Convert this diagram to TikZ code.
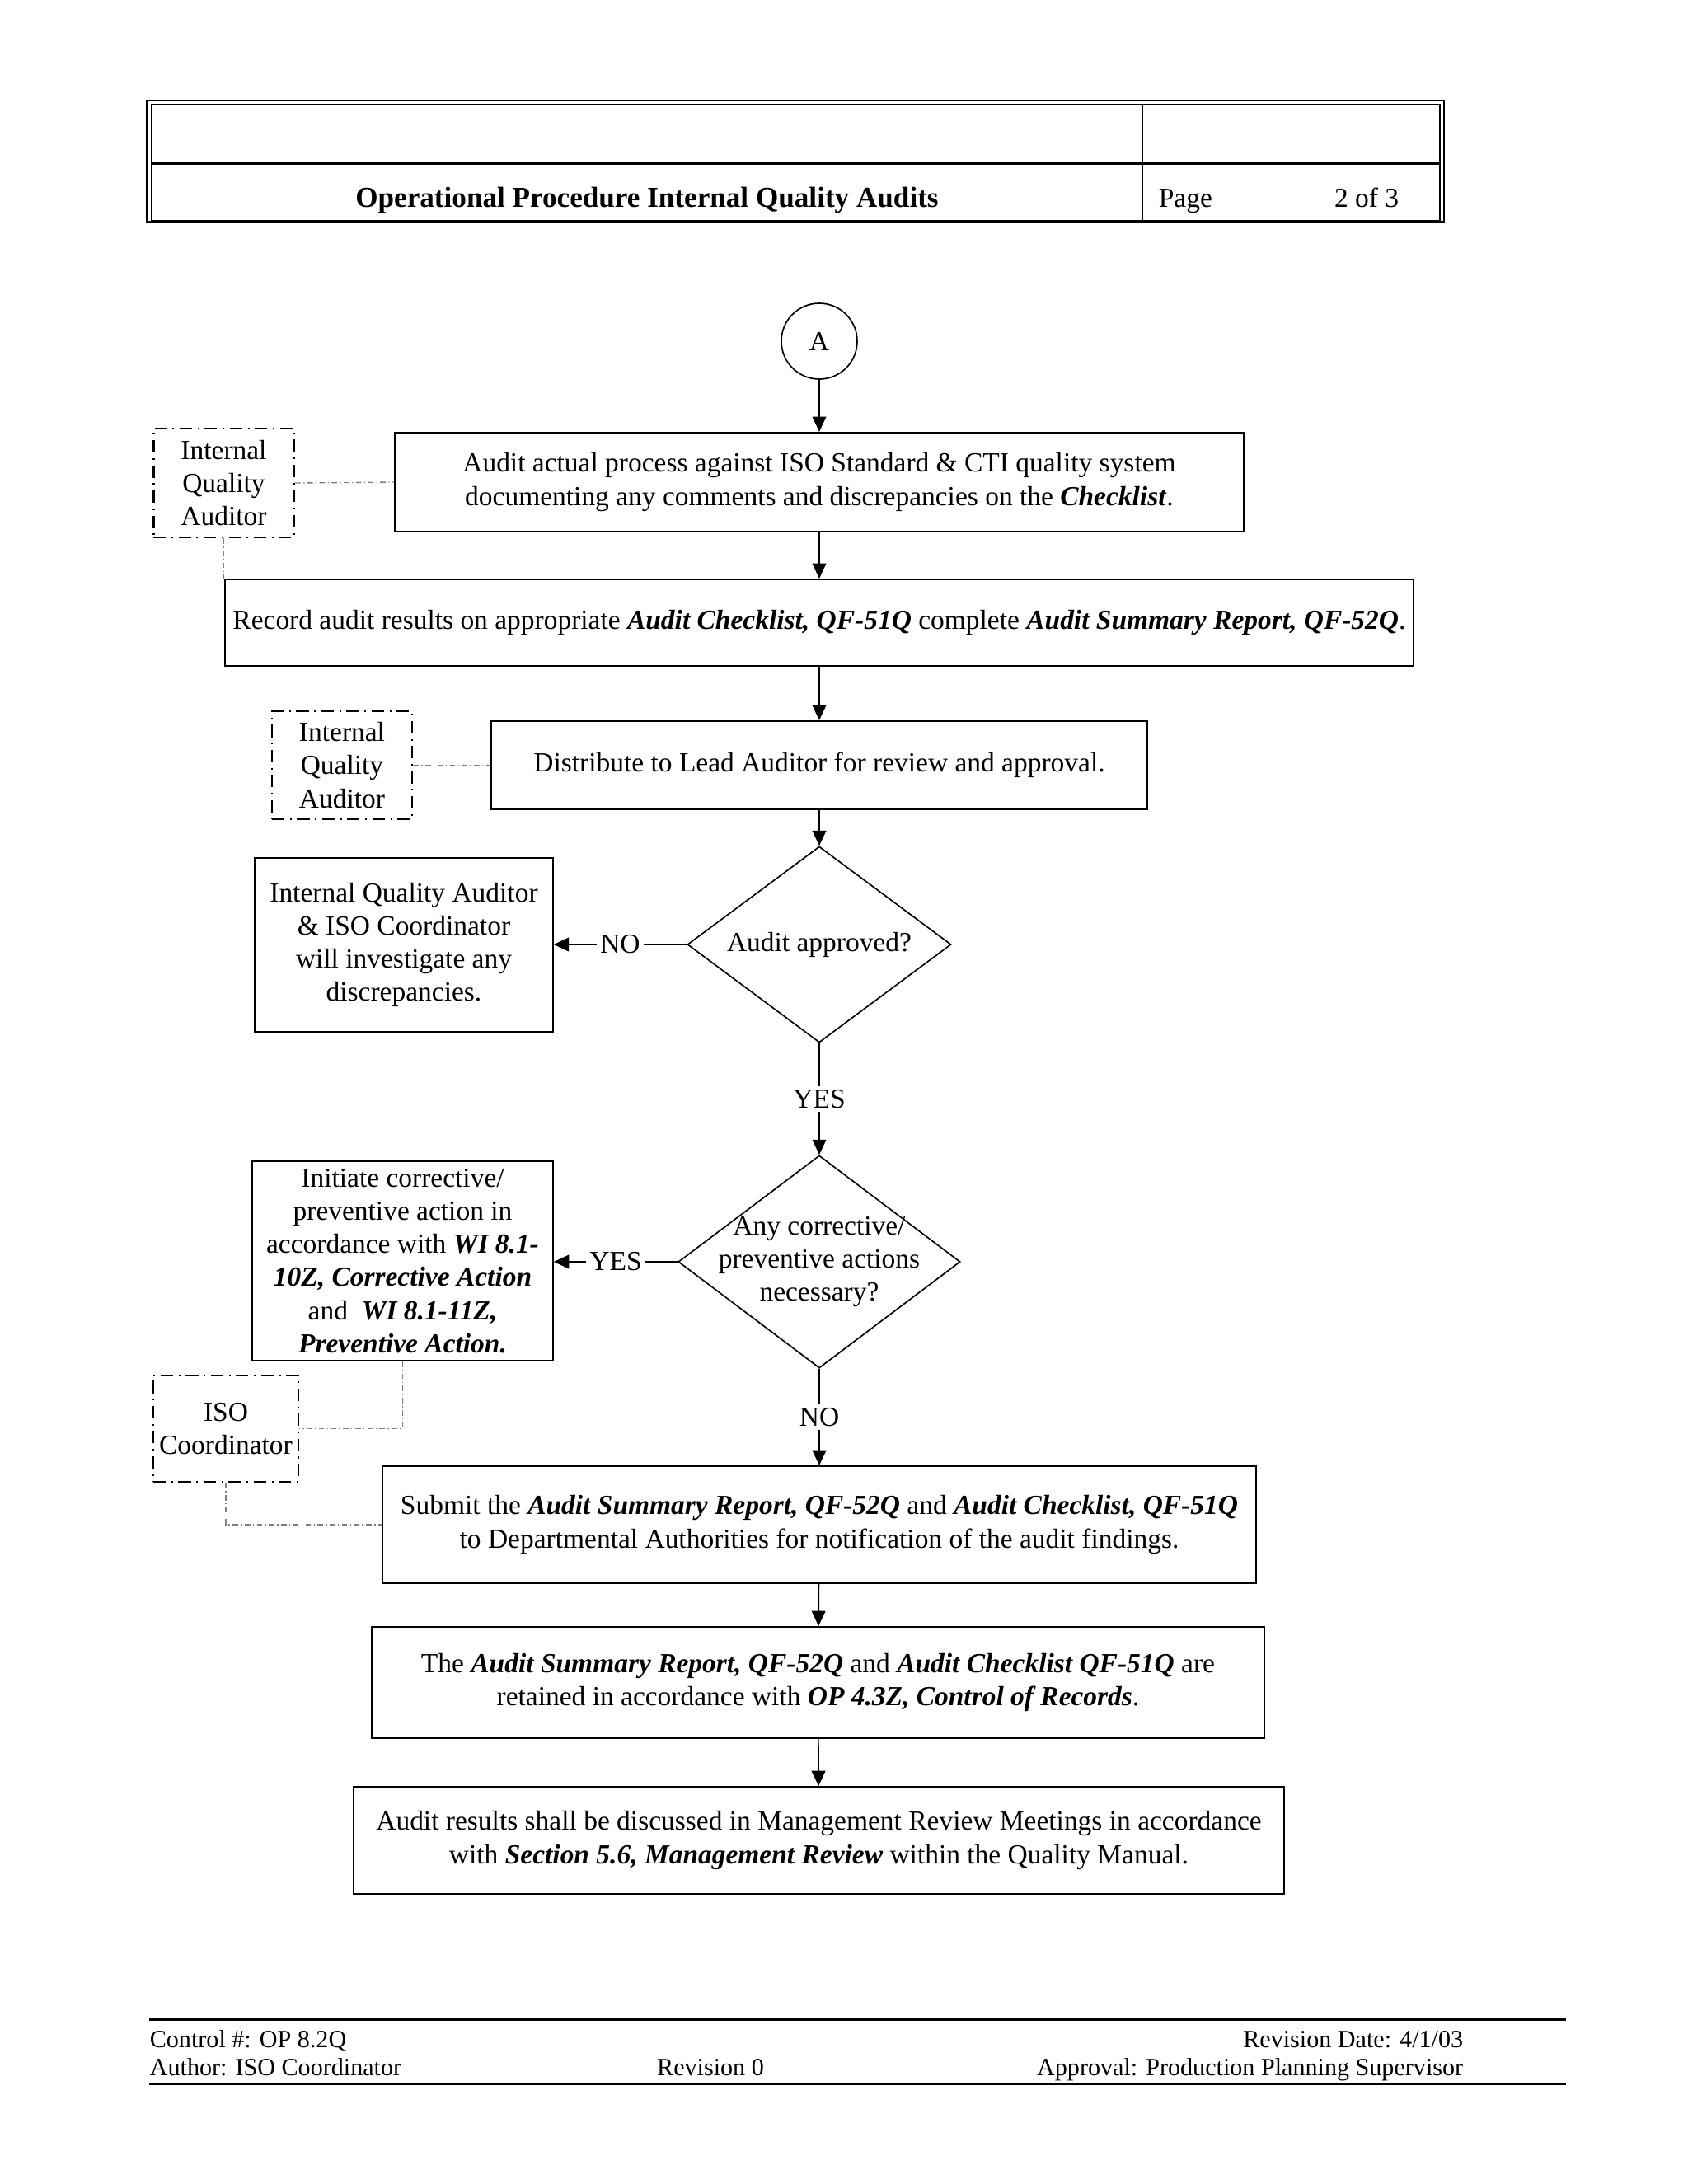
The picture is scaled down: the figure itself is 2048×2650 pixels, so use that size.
\documentclass[tikz,border=0pt]{standalone}
\usepackage{fontspec}
\setmainfont{Liberation Serif}
\usetikzlibrary{arrows.meta,shapes.geometric,calc}
\newcommand*{\bfit}[1]{\textbf{\textit{#1}}}
\tikzset{
	procbox/.style={draw, line width=0.6pt, align=center, inner sep=1pt},
	decision/.style={draw, diamond, line width=0.5pt, inner sep=0pt},
	rolebox/.style={draw, line width=0.8pt, dash pattern=on 4.5pt off 2pt on 0.6pt off 2pt, align=center, inner sep=1pt},
	roleline/.style={draw=gray, line width=0.4pt, dash pattern=on 2pt off 1pt on 0.4pt off 1pt},
	branch/.style={fill=white, inner sep=1.2pt},
	foot/.style={inner sep=0pt, font=\fontsize{9}{10}\selectfont},
}

\begin{document}
\begin{tikzpicture}[x=0.29883pt, y=-0.29883pt, line width=0.5pt,
		>={Triangle[length=5.5pt,width=5pt]},
		every node/.style={font=\fontsize{10}{12}\selectfont}]
		\useasboundingbox (0,0) rectangle (2048,2650);
		% header
		\draw[line width=0.6pt] (178,122) rectangle (1752,269);
		\draw[line width=0.6pt] (184,127) rectangle (1747,268);
		\draw[line width=1pt] (184,198) -- (1747,198);
		\draw[line width=0.6pt] (1386,127) -- (1386,268);
		\node[anchor=base, inner sep=0pt, font=\fontsize{10.5}{12}\selectfont\bfseries] (title) at (785,251) {Operational Procedure Internal Quality Audits};
		\node[anchor=base west, inner sep=0pt] (page) at (1405,251) {Page};
		\node[anchor=base east, inner sep=0pt] (pageno) at (1698,251) {2 of 3};
		
		% flow
		\node[draw, circle, minimum size=27.5pt, inner sep=0pt] (start) at (994,414) {A};
		\node[procbox, minimum width=308pt, minimum height=35.9pt] (audit) at (994,585)
			{Audit actual process against ISO Standard \& CTI quality system\\
			 documenting any comments and discrepancies on the \bfit{Checklist}.};
		\node[procbox, minimum width=431pt, minimum height=31.4pt] (record) at (994,755.5)
			{Record audit results on appropriate \bfit{Audit Checklist, QF-51Q} complete \bfit{Audit Summary Report, QF-52Q}.};
		\node[procbox, minimum width=238pt, minimum height=32pt] (distrib) at (994,928.5)
			{Distribute to Lead Auditor for review and approval.};
		\node[decision, minimum width=95.6pt, minimum height=71.1pt,
			label={center:Audit approved?}] (approved) at (994,1146) {};
		\node[procbox, minimum width=108pt, minimum height=63pt] (investigate) at (490,1146.5)
			{Internal Quality Auditor\\ \& ISO Coordinator\\ will investigate any\\ discrepancies.};
		\node[decision, minimum width=102.2pt, minimum height=77.1pt,
			label={[align=center]center:Any corrective/\\ preventive actions\\ necessary?}] (actions) at (994,1531) {};
		\node[procbox, minimum width=109pt, minimum height=72.3pt] (corrective) at (488.5,1530)
			{Initiate corrective/\\ preventive action in\\ accordance with \bfit{WI 8.1-}\\
			 \bfit{10Z, Corrective Action}\\ and\ \ \bfit{WI 8.1-11Z,}\\ \bfit{Preventive Action.}};
		\node[procbox, minimum width=317pt, minimum height=42.4pt] (submit) at (994,1850)
			{Submit the \bfit{Audit Summary Report, QF-52Q} and \bfit{Audit Checklist, QF-51Q}\\
			 to Departmental Authorities for notification of the audit findings.};
		\node[procbox, minimum width=323.6pt, minimum height=40.3pt] (retain) at (992.5,2041.5)
			{The \bfit{Audit Summary Report, QF-52Q} and \bfit{Audit Checklist QF-51Q} are\\
			 retained in accordance with \bfit{OP 4.3Z, Control of Records}.};
		\node[procbox, minimum width=337.3pt, minimum height=38.8pt] (review) at (993.5,2233)
			{Audit results shall be discussed in Management Review Meetings in accordance\\
			 with \bfit{Section 5.6, Management Review} within the Quality Manual.};
		
		% roles
		\node[rolebox, minimum width=51pt, minimum height=39.4pt] (iqa1) at (271.5,586) {Internal\\ Quality\\ Auditor};
		\node[rolebox, minimum width=50.8pt, minimum height=39.1pt] (iqa2) at (415,928.5) {Internal\\ Quality\\ Auditor};
		\node[rolebox, minimum width=52.6pt, minimum height=38.5pt] (iso) at (274,1733.5) {ISO\\ Coordinator};
		
		\draw[->] (start) -- (audit);
		\draw[->] (audit) -- (record);
		\draw[->] (record) -- (distrib);
		\draw[->] (distrib) -- (approved);
		\draw[->] (approved.west) -- node[branch] {NO} (approved.west -| investigate.east);
		\draw[->] (approved.south) -- node[branch] {YES} (actions.north);
		\draw[->] (actions.west) -- node[branch] {YES} (actions.west -| corrective.east);
		\draw[->] (actions.south) -- node[branch] {NO} (submit.north);
		\draw[->] (submit) -- (retain);
		\draw[->] (retain) -- (review);
		%%
		\draw[roleline] (iqa1.east) -- (audit.west);
		\draw[roleline] (iqa1.south) -- (iqa1.south |- record.north);
		\draw[roleline] (iqa2.east) -- (distrib.west);
		\draw[roleline] (corrective.south) |- (iso.east);
		\draw[roleline] (iso.south) |- (submit.west);
		
		% footer
		\draw[line width=0.9pt] (181,2450) -- (1900,2450);
		\draw[line width=0.9pt] (181,2528) -- (1900,2528);
		\node[foot, anchor=base west] (control) at (181,2484) {Control \#: OP 8.2Q};
		\node[foot, anchor=base west] (author) at (181,2518) {Author: ISO Coordinator};
		\node[foot, anchor=base] (revision) at (862,2518) {Revision 0};
		\node[foot, anchor=base east] (revdate) at (1776,2484) {Revision Date: 4/1/03};
		\node[foot, anchor=base east] (approval) at (1776,2518) {Approval: Production Planning Supervisor};
	\end{tikzpicture}
\end{document}
